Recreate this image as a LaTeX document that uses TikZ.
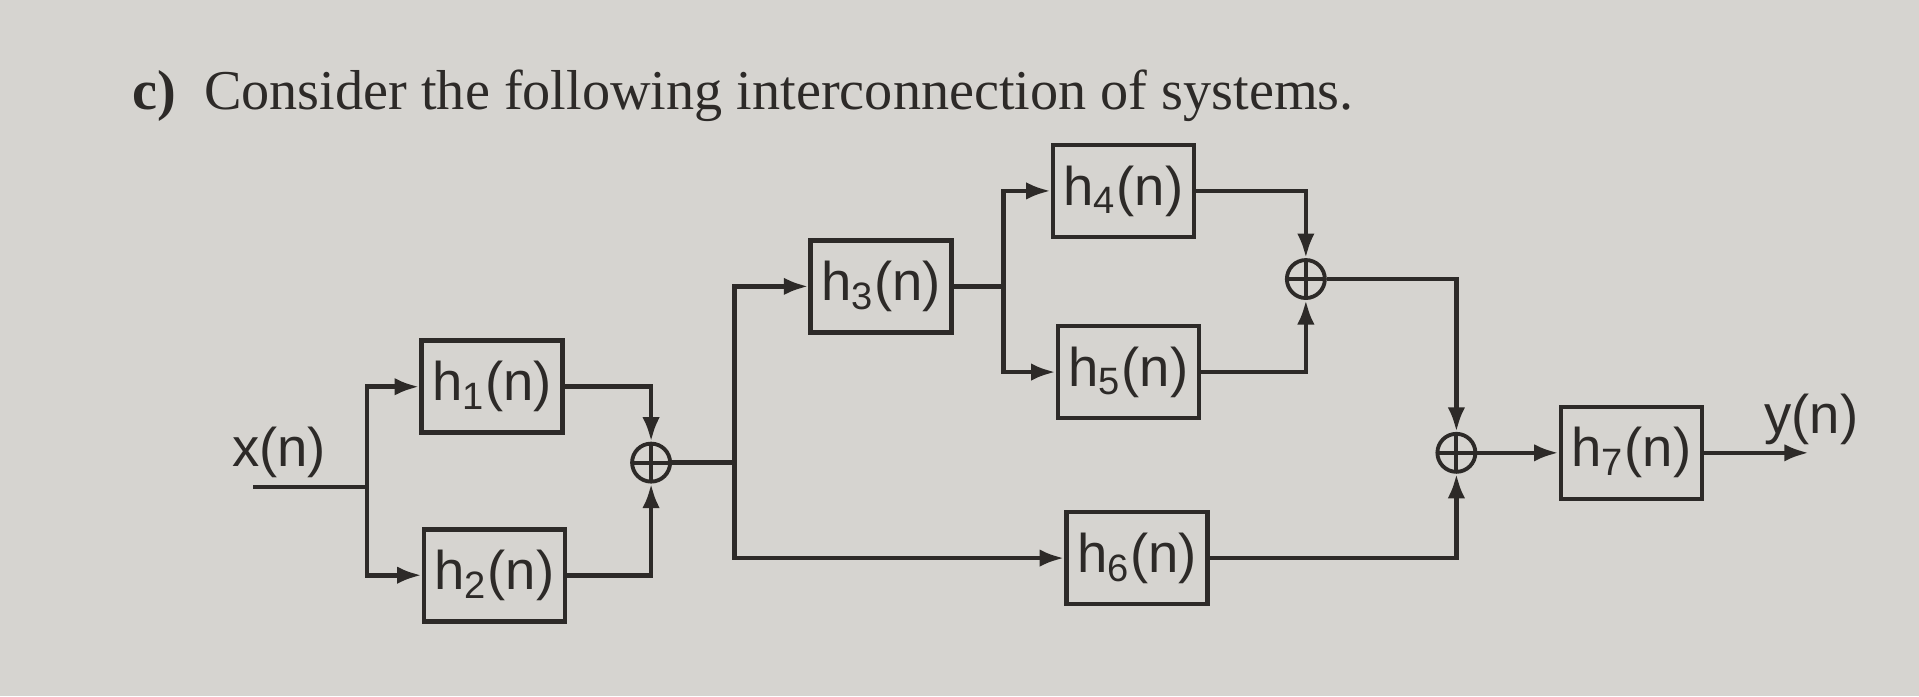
\documentclass[tikz,border=0pt]{standalone}
\usepackage{fontspec}
\setmainfont{Liberation Serif}
\newfontfamily\boxfont{Liberation Sans}
\usetikzlibrary{arrows.meta}
\definecolor{paper}{RGB}{214,212,208}
\definecolor{ink}{RGB}{45,42,40}
\begin{document}
\begin{tikzpicture}[x=0.012239cm,y=-0.012239cm,
  blk/.style={draw=ink,line width=1.3pt,minimum width=1.41cm,minimum height=0.92cm,inner sep=0pt,font=\boxfont\fontsize{15.5}{15.5}\selectfont,text=ink},
  sumn/.style={draw=ink,line width=1.1pt,circle,minimum size=0.38cm,inner sep=0pt,path picture={\draw[ink,line width=1.1pt] (path picture bounding box.north)--(path picture bounding box.south) (path picture bounding box.west)--(path picture bounding box.east);}},
  wire/.style={draw=ink,line width=1.3pt},
  arr/.style={wire,-{Latex[length=7pt,width=5pt]}},
  lab/.style={font=\boxfont\fontsize{15.5}{15.5}\selectfont,text=ink}]
\fill[paper] (0,0) rectangle (1568,569);
\useasboundingbox (0,0) rectangle (1568,569);
\node[anchor=west,text=ink,font=\fontsize{16}{16}\selectfont] (title) at (98,78) {\textbf{c)}\ \ Consider the following interconnection of systems.};
\node[blk] (h1) at (402,316) {h\textsubscript{1}(n)};
\node[blk] (h2) at (404,470) {h\textsubscript{2}(n)};
\node[blk] (h3) at (720,234) {h\textsubscript{3}(n)};
\node[blk] (h4) at (918,156) {h\textsubscript{4}(n)};
\node[blk] (h5) at (922,304) {h\textsubscript{5}(n)};
\node[blk] (h6) at (929,456) {h\textsubscript{6}(n)};
\node[blk] (h7) at (1333,370) {h\textsubscript{7}(n)};
\node[sumn] (s1) at (532,378) {};
\node[sumn] (s2) at (1067,228) {};
\node[sumn] (s3) at (1190,370) {};
\node[lab] (xl) at (228,370) {x(n)};
\node[lab] (yl) at (1480,343) {y(n)};
\coordinate (xin) at (207,398);
\coordinate (b1) at (300,398);
\coordinate (b2) at (600,378);
\coordinate (b3) at (820,234);
\coordinate (yout) at (1478,366);
\draw[wire] (xin)--(b1);
\draw[arr] (b1)|-(h1.west);
\draw[arr] (b1)|-(h2.west);
\draw[arr] (h1.east)-|(s1.north);
\draw[arr] (h2.east)-|(s1.south);
\draw[wire] (s1.east)--(b2);
\draw[arr] (b2)|-(h3.west);
\draw[arr] (b2)|-(h6.west);
\draw[wire] (h3.east)--(b3);
\draw[arr] (b3)|-(h4.west);
\draw[arr] (b3)|-(h5.west);
\draw[arr] (h4.east)-|(s2.north);
\draw[arr] (h5.east)-|(s2.south);
\draw[arr] (s2.east)-|(s3.north);
\draw[arr] (h6.east)-|(s3.south);
\draw[arr] (s3.east)--(h7.west);
\draw[arr] (h7.east)--(yout |- h7.east);
\end{tikzpicture}
\end{document}
